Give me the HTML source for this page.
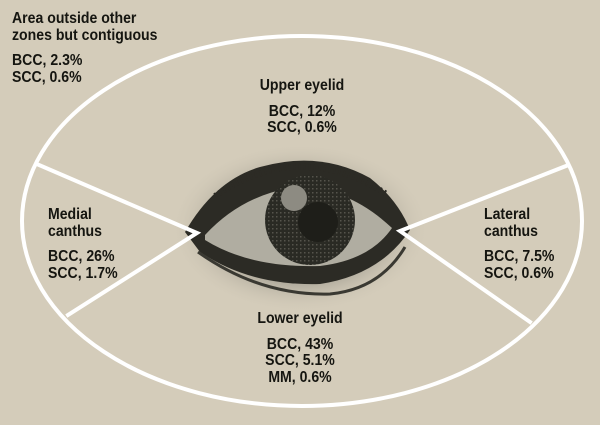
<!DOCTYPE html>
<html><head><meta charset="utf-8"><style>
body{margin:0}
#c{position:relative;width:600px;height:425px;background:#d4ccba;overflow:hidden;font-family:"Liberation Sans Narrow","Liberation Sans",sans-serif;font-weight:bold;font-size:16px;line-height:16.5px;color:#151510}
.t{position:absolute;white-space:nowrap;transform-origin:0 0;transform:scaleX(0.88)}
.ctr{text-align:center;transform-origin:50% 0;transform:translateX(-50%) scaleX(0.88)}
p{margin:0}
.g{height:9px}
</style></head><body><div id="c">
<svg width="600" height="425" style="position:absolute;left:0;top:0">
<defs>
<radialGradient id="hal" cx="0.5" cy="0.5" r="0.5"><stop offset="0.55" stop-color="#9a968a"/><stop offset="1" stop-color="#d4ccba" stop-opacity="0"/></radialGradient>
<pattern id="hatch" width="4" height="4" patternUnits="userSpaceOnUse"><rect width="4" height="4" fill="#2a2a24"/><rect width="1.5" height="1.5" fill="#55544c"/></pattern>
</defs>
<ellipse cx="302" cy="221" rx="280" ry="185" fill="none" stroke="#fff" stroke-width="4"/>
<ellipse cx="300" cy="228" rx="130" ry="85" fill="url(#hal)"/>
<path d="M185 232 Q215 180 260 167 Q320 150 370 178 Q398 200 410 230 Q380 275 320 284 Q250 286 200 252 Z" fill="#2c2b25"/>
<path d="M205 235 Q240 197 290 188 Q345 184 392 228 Q370 260 320 266 Q250 268 205 240 Z" fill="#b0ada1"/>
<circle cx="310" cy="220" r="45" fill="url(#hatch)"/>
<circle cx="318" cy="222" r="20" fill="#1e1e19"/>
<circle cx="294" cy="198" r="13" fill="#8d8b82"/>
<path d="M198 252 Q260 296 330 294 Q380 289 405 247" fill="none" stroke="#3a3932" stroke-width="3"/>
<path d="M215 196 Q300 138 388 195" fill="none" stroke="#2c2b25" stroke-width="6" stroke-dasharray="2 3"/>
<g stroke="#fff" stroke-width="4" stroke-linecap="square" fill="none">
<polyline points="39,165 197,233 68,315"/>
<polyline points="566,166 400,231 530,322"/>
</g>
</svg>
<div class="t" style="left:12px;top:11px"><p>Area outside other</p><p>zones but contiguous</p><div class="g"></div><p>BCC, 2.3%</p><p>SCC, 0.6%</p></div>
<div class="t ctr" style="left:302px;top:78px"><p>Upper eyelid</p><div class="g"></div><p>BCC, 12%</p><p>SCC, 0.6%</p></div>
<div class="t" style="left:48px;top:207px"><p>Medial</p><p>canthus</p><div class="g"></div><p>BCC, 26%</p><p>SCC, 1.7%</p></div>
<div class="t" style="left:484px;top:207px"><p>Lateral</p><p>canthus</p><div class="g"></div><p>BCC, 7.5%</p><p>SCC, 0.6%</p></div>
<div class="t ctr" style="left:300px;top:311px"><p>Lower eyelid</p><div class="g"></div><p>BCC, 43%</p><p>SCC, 5.1%</p><p>MM, 0.6%</p></div>
</div></body></html>
